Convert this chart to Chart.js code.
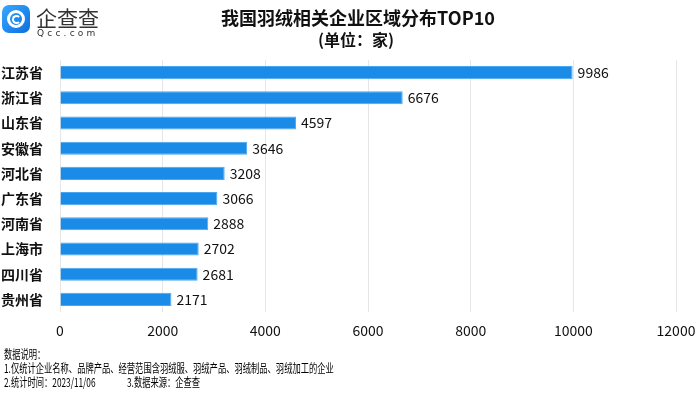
<!DOCTYPE html>
<html>
<head>
<meta charset="utf-8">
<script src="https://cdn.jsdelivr.net/npm/chart.js@4"></script>
<style>
  body { margin: 0; background: #fff; font-family: "Noto Sans CJK SC", "Noto Sans", sans-serif; }
  #wrap { position: relative; width: 700px; height: 397px; }
  #chart { position: absolute; left: 0; top: 0; }
  .logo { position: absolute; left: 2px; top: 5px; width: 28px; height: 28px; border-radius: 7px;
          background: linear-gradient(135deg, #3aa8ff, #0b6fe0); }
  .logo span { position: absolute; left: 5px; top: 5px; width: 12px; height: 12px; border: 3px solid #fff;
               border-radius: 50%; }
  .logo i { position: absolute; left: 10px; top: 10px; width: 5px; height: 5px; border: 2px solid #fff;
            border-right-color: transparent; border-radius: 50%; }
  .brand { position: absolute; left: 36px; top: 2px; font-size: 21px; color: #333; letter-spacing: 0px; }
  .brand2 { position: absolute; left: 37px; top: 28px; font-size: 9px; color: #333; letter-spacing: 3.2px; font-family: "DejaVu Sans"; }
  .title { position: absolute; left: 0; width: 716px; text-align: center; top: 4px; font-size: 18px; font-weight: bold; color: #111; }
  .sub { position: absolute; left: 0; width: 712px; text-align: center; top: 27px; font-size: 16px; font-weight: bold; color: #111; }
  .note { position: absolute; left: 4px; font-size: 12px; color: #000; line-height: 14px; white-space: nowrap;
          transform: scaleX(0.69); transform-origin: left top; }
</style>
</head>
<body>
<div id="wrap">
  <canvas id="chart" width="700" height="397"></canvas>
  <div class="logo"><span></span><i></i></div>
  <div class="brand">企查查</div>
  <div class="brand2">Qcc.com</div>
  <div class="title">我国羽绒相关企业区域分布TOP10</div>
  <div class="sub">(单位：家)</div>
  <div class="note" style="top:347px">数据说明：</div>
  <div class="note" style="top:361px">1.仅统计企业名称、品牌产品、经营范围含羽绒服、羽绒产品、羽绒制品、羽绒加工的企业</div>
  <div class="note" style="top:375px">2.统计时间：2023/11/06</div>
  <div class="note" style="top:375px;left:127px">3.数据来源：企查查</div>
</div>
<script>
const provinces = ['江苏省', '浙江省', '山东省', '安徽省', '河北省', '广东省', '河南省', '上海市', '四川省', '贵州省'];
const counts = [9986, 6676, 4597, 3646, 3208, 3066, 2888, 2702, 2681, 2171];
const xTicks = [0, 2000, 4000, 6000, 8000, 10000, 12000];

const valueLabels = {
    id: 'valueLabels',
    afterDatasetsDraw(chart) {
        const ctx = chart.ctx;
        const meta = chart.getDatasetMeta(0);
        ctx.save();
        ctx.font = '14px "Noto Sans CJK SC", sans-serif';
        ctx.fillStyle = '#111';
        ctx.textBaseline = 'middle';
        meta.data.forEach((bar, i) => {
            ctx.fillText(counts[i], bar.x + 5, bar.y);
        });
        ctx.restore();
    }
};

const ctx = document.getElementById('chart').getContext('2d');
new Chart(ctx, {
    type: 'bar',
    data: {
        labels: provinces,
        datasets: [{
            data: counts,
            backgroundColor: '#1b8be8',
            borderColor: '#4aa6f0',
            borderWidth: 1,
            barPercentage: 0.52,
            categoryPercentage: 1
        }]
    },
    options: {
        indexAxis: 'y',
        responsive: false,
        animation: false,
        layout: { padding: { left: 0, right: 0, top: 60, bottom: 0 } },
        plugins: { legend: { display: false }, tooltip: { enabled: false } },
        scales: {
            x: {
                min: 0,
                max: 12000,
                afterBuildTicks: (scale) => { scale.ticks = xTicks.map(v => ({ value: v })); },
                grid: { color: '#e6e6e6', drawTicks: false },
                border: { display: false },
                ticks: {
                    color: '#111',
                    font: { size: 14, family: '"Noto Sans CJK SC", sans-serif' },
                    padding: 10,
                    callback: (v) => String(v)
                },
                afterFit: (scale) => { scale.height = 85; scale.paddingRight = 24; }
            },
            y: {
                grid: { display: false },
                border: { display: false },
                ticks: { color: '#111', font: { size: 14, weight: 'bold', family: '"Noto Sans CJK SC", sans-serif' }, padding: 9 },
                afterFit: (scale) => { scale.width = 60; }
            }
        }
    },
    plugins: [valueLabels]
});
</script>
</body>
</html>
